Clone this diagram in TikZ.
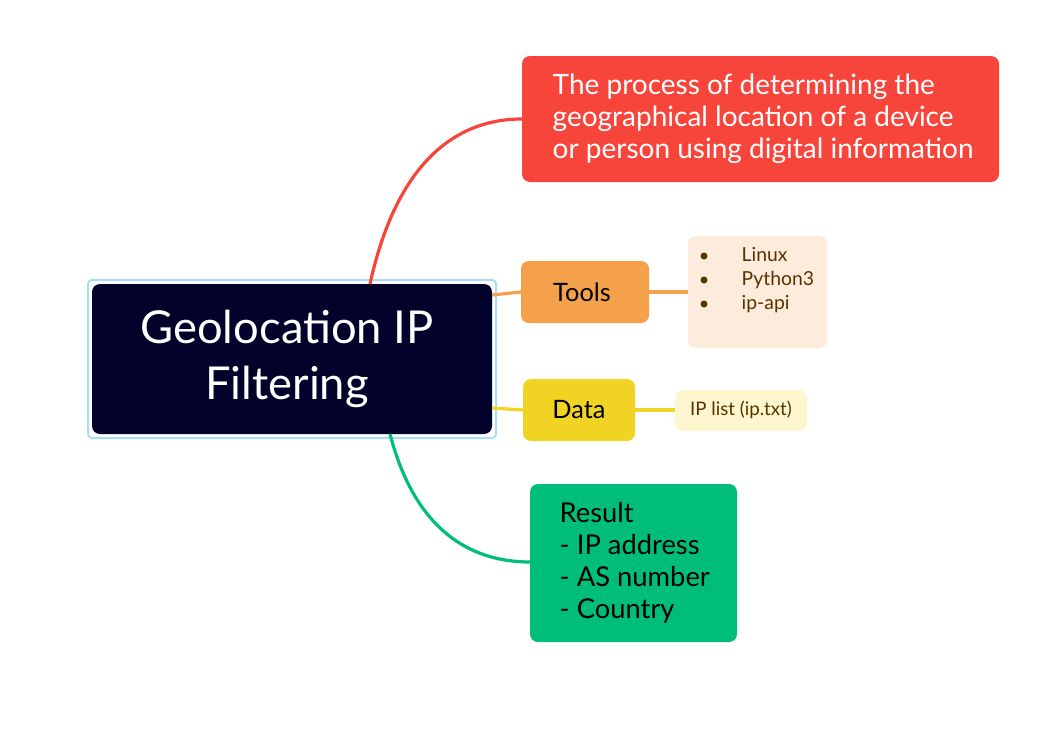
\documentclass[tikz,border=0pt]{standalone}
\usepackage{fontspec}
\setmainfont{Lato}
\definecolor{cred}{HTML}{F7453C}
\definecolor{corange}{HTML}{F5A04A}
\definecolor{cyellow}{HTML}{F1D323}
\definecolor{cgreen}{HTML}{00BE7A}
\definecolor{cnavy}{HTML}{02022A}
\definecolor{cpeach}{HTML}{FDEBDC}
\definecolor{cpale}{HTML}{FDF6CF}
\definecolor{cbrown}{HTML}{5A3200}
\definecolor{cblue}{HTML}{A8DDF5}
\begin{document}
\begin{tikzpicture}[x=0.75pt,y=-0.75pt,
  box/.style={rounded corners=6pt,inner sep=0pt},
  link/.style={line width=2.4pt}]
\useasboundingbox (0,0) rectangle (1061,736);
\fill[white] (0,0) rectangle (1061,736);
% central
\draw[cblue,line width=1.5pt,rounded corners=3pt] (88,280) rectangle (496,438);
\fill[cnavy,rounded corners=6pt] (92,284) rectangle (492,434);
\node[text=white,font=\fontsize{34}{42}\selectfont,align=center] (c) at (287,359) {Geolocation IP\\Filtering};
\coordinate (c1) at (370,284);
\coordinate (c2) at (492,295);
\coordinate (c3) at (492,408);
\coordinate (c4) at (390,434);
% red
\fill[cred,rounded corners=6pt] (522,56) rectangle (999,182);
\node[text=white,font=\fontsize{21}{24}\selectfont,align=left,anchor=west] (def) at (548,119) {The process of determining the\\geographical location of a device\\or person using digital information};
\coordinate (r) at (522,119);
% tools
\fill[corange,rounded corners=6pt] (521,261) rectangle (649,323);
\node[font=\fontsize{19}{22}\selectfont] (tools) at (582,292) {Tools};
\fill[cpeach,rounded corners=6pt] (688,236) rectangle (827,348);
\node[text=cbrown,font=\fontsize{14.5}{18}\selectfont,align=left,anchor=west] (tl) at (737,280) {Linux\\Python3\\ip-api};
\foreach \y in {256,280,304} \fill[cbrown] (704,\y) circle (3.5);
% data
\fill[cyellow,rounded corners=6pt] (523,379) rectangle (635,441);
\node[font=\fontsize{19}{22}\selectfont] (data) at (579,410) {Data};
\fill[cpale,rounded corners=6pt] (675,390) rectangle (807,431);
\node[text=cbrown,font=\fontsize{14}{18}\selectfont] (ip) at (741,410) {IP list (ip.txt)};
% result
\fill[cgreen,rounded corners=6pt] (530,484) rectangle (737,642);
\node[font=\fontsize{20.5}{24}\selectfont,align=left,anchor=west] (res) at (555,563) {Result\\- IP address\\- AS number\\- Country};
% links
\draw[link,cred] (c1) .. controls (395,170) and (450,119) .. (r);
\draw[link,corange] (c2) -- (521,292);
\draw[link,corange] (649,292) -- (688,292);
\draw[link,cyellow] (c3) -- (523,410);
\draw[link,cyellow] (635,410) -- (675,410);
\draw[link,cgreen] (c4) .. controls (415,530) and (470,562) .. (530,562);
\end{tikzpicture}
\end{document}
